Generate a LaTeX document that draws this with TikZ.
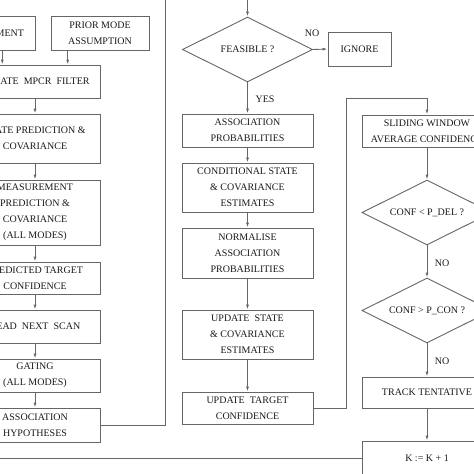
\documentclass[tikz,border=0pt]{standalone}
\usepackage{fontspec}
\setmainfont{Liberation Serif}
\usetikzlibrary{shapes.geometric,arrows.meta,calc}
\begin{document}
\begin{tikzpicture}[x=1pt,y=-1pt,line width=.9pt,
  every node/.style={text=black!90,font=\fontsize{10}{16}\selectfont,align=center,inner sep=0pt},
  blk/.style={draw=black!60,minimum width=130pt,minimum height=33pt},
  dec/.style={draw=black!60,diamond,aspect=2,minimum width=130pt,minimum height=65pt},
  arr/.style={draw=black!60,-{Latex[length=5pt,width=3pt]}},
  ln/.style={draw=black!60}
]
    \useasboundingbox (0,0) rectangle (474,474);
    \clip (0,0) rectangle (474,474);
    % left column
    \node[blk,minimum width=98pt,minimum height=34pt] (meas) at (-14,33) {MEASUREMENT};
    \node[blk,minimum width=98pt,minimum height=34pt] (prior) at (100,33) {PRIOR MODE\\ASSUMPTION};
    \node[blk] (mpcr) at (35,81.5) {UPDATE\ \ MPCR\ \ FILTER};
    \node[blk,minimum height=49pt] (statepred) at (35,138.5) {STATE PREDICTION \&\\COVARIANCE};
    \node[blk,minimum height=65pt] (measpred) at (35,212.5) {MEASUREMENT\\PREDICTION \&\\COVARIANCE\\(ALL MODES)};
    \node[blk,minimum height=32pt] (predconf) at (35,278) {PREDICTED TARGET\\CONFIDENCE};
    \node[blk] (readscan) at (35,326.5) {READ\ \ NEXT\ \ SCAN};
    \node[blk] (gating) at (35,375.5) {GATING\\(ALL MODES)};
    \node[blk,minimum height=34pt] (hyp) at (35,425) {ASSOCIATION\\HYPOTHESES};
    % middle column
    \node[dec] (feas) at (247.5,49.5) {FEASIBLE ?};
    \node[blk,minimum width=63pt,minimum height=34pt] (ignore) at (359.5,49) {IGNORE};
    \node[blk,minimum width=131pt] (assocprob) at (247.5,130.5) {ASSOCIATION\\PROBABILITIES};
    \node[blk,minimum width=131pt,minimum height=49pt] (condstate) at (247.5,187.5) {CONDITIONAL STATE\\\& COVARIANCE\\ESTIMATES};
    \node[blk,minimum width=131pt,minimum height=50pt] (normalise) at (247.5,253) {NORMALISE\\ASSOCIATION\\PROBABILITIES};
    \node[blk,minimum width=131pt,minimum height=49pt] (updstate) at (247.5,334.5) {UPDATE\ \ STATE\\\& COVARIANCE\\ESTIMATES};
    \node[blk,minimum width=131pt,minimum height=32pt] (updconf) at (247.5,408) {UPDATE\ \ TARGET\\CONFIDENCE};
    % right column
    \node[blk,minimum height=32pt] (sliding) at (427,131) {SLIDING WINDOW\\AVERAGE CONFIDENCE};
    \node[dec] (del) at (427,212.5) {CONF < P\_DEL ?};
    \node[dec] (con) at (427,310.5) {CONF > P\_CON ?};
    \node[blk,minimum height=31pt] (tentative) at (427,392.5) {TRACK TENTATIVE};
    \node[blk,minimum height=34pt] (kbox) at (427,458) {K := K + 1};
    % loose ends
    \coordinate (q1) at ($(mpcr.north west)!.25!(mpcr.north east)$);
    \coordinate (q3) at ($(mpcr.north west)!.75!(mpcr.north east)$);
    \coordinate (intop) at (247.5,-5);
    \coordinate (looptop) at (165.6,-5);
    \coordinate (cnr) at (346,98);
    \coordinate (outleft) at (-5,458);
    % connectors
    \draw[arr] (meas.south -| q1) -- (q1);
    \draw[arr] (prior.south -| q3) -- (q3);
    \draw[arr] (mpcr) -- (statepred);
    \draw[arr] (statepred) -- (measpred);
    \draw[arr] (measpred) -- (predconf);
    \draw[arr] (predconf) -- (readscan);
    \draw[arr] (readscan) -- (gating);
    \draw[arr] (gating) -- (hyp);
    \draw[ln] (hyp.east) -| (looptop);
    \draw[arr] (intop) -- (feas.north);
    \draw[arr] (feas.east) -- (ignore.west);
    \draw[arr] (feas.south) -- (assocprob.north);
    \draw[arr] (assocprob) -- (condstate);
    \draw[arr] (condstate) -- (normalise);
    \draw[arr] (normalise) -- (updstate);
    \draw[arr] (updstate) -- (updconf);
    \draw[arr] (updconf.east) -| (cnr) -| (sliding.north);
    \draw[arr] (sliding) -- (del.north);
    \draw[arr] (del.south) -- (con.north);
    \draw[arr] (con.south) -- (tentative.north);
    \draw[arr] (tentative) -- (kbox);
    \draw[ln] (kbox.west) -- (outleft);
    % labels
    \node (nofeas) at (312,33) {NO};
    \node (yesfeas) at (265,99) {YES};
    \node (nodel) at (442,263) {NO};
    \node (nocon) at (442,361) {NO};
\end{tikzpicture}
\end{document}
